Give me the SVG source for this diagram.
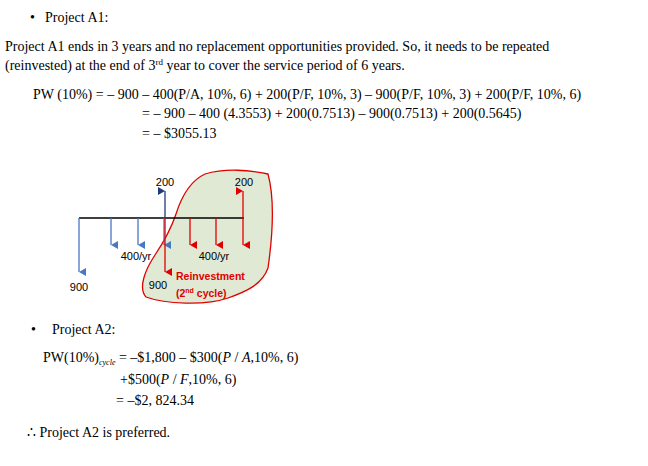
<svg xmlns="http://www.w3.org/2000/svg" width="648" height="466" viewBox="0 0 648 466">
<defs>
<style>
.t{font-family:"Liberation Serif",serif;font-size:14px;fill:#000}
.s{font-family:"Liberation Sans",sans-serif;font-size:11px;fill:#000}
.r{font-family:"Liberation Sans",sans-serif;font-size:10.5px;font-weight:bold;fill:#e00000}
.b{stroke:#4a78c0;stroke-width:1.3;fill:none}
.rd{stroke:#e00000;stroke-width:1.3;fill:none}
.nv{stroke:#1f3a7a;stroke-width:1.3;fill:none}
</style>
<marker id="ab" markerWidth="8" markerHeight="8" refX="4" refY="7" orient="auto" markerUnits="userSpaceOnUse" viewBox="0 0 8 8"><path d="M0,0 L8,0 L4,7 z" fill="#4a78c0"/></marker>
<marker id="ar" markerWidth="8" markerHeight="8" refX="4" refY="7" orient="auto" markerUnits="userSpaceOnUse" viewBox="0 0 8 8"><path d="M0,0 L8,0 L4,7 z" fill="#e00000"/></marker>
<marker id="an" markerWidth="8" markerHeight="8" refX="4" refY="7" orient="auto" markerUnits="userSpaceOnUse" viewBox="0 0 8 8"><path d="M0,0 L8,0 L4,7 z" fill="#1f3a7a"/></marker>
</defs>
<rect width="648" height="466" fill="#fff"/>
<g id="text-a1">
<text class="t" x="30" y="22">•</text><text class="t" x="45" y="22">Project A1:</text>
<text class="t" x="5" y="51">Project A1 ends in 3 years and no replacement opportunities provided. So, it needs to be repeated</text>
<text class="t" x="5" y="70">(reinvested) at the end of 3<tspan font-size="9" dy="-5">rd</tspan><tspan dy="5"> year to cover the service period of 6 years.</tspan></text>
<text class="t" x="33" y="99">PW (10%) = – 900 – 400(P/A, 10%, 6) + 200(P/F, 10%, 3) – 900(P/F, 10%, 3) + 200(P/F, 10%, 6)</text>
<text class="t" x="142" y="118">= – 900 – 400 (4.3553) + 200(0.7513) – 900(0.7513) + 200(0.5645)</text>
<text class="t" x="142" y="138">= – $3055.13</text>
</g>
<g id="blob">
<path d="M176,214 C182,195 192,180 205,174 C225,168 250,170 268,174 C275,200 272,240 268,268 C262,285 245,292 228,298 C205,306 165,304 146,297 C138,288 145,270 155,255 C163,243 170,232 176,214 Z" fill="#dfe9d3" stroke="#e00000" stroke-width="1.3"/>
</g>
<g id="connectors">
<line x1="79" y1="218" x2="244" y2="218" stroke="#000" stroke-width="1.3"/>
<line class="b" x1="79" y1="218" x2="79" y2="272" marker-end="url(#ab)"/>
<line class="b" x1="111" y1="218" x2="111" y2="245" marker-end="url(#ab)"/>
<line class="b" x1="138" y1="218" x2="138" y2="245" marker-end="url(#ab)"/>
<line class="b" x1="164" y1="218" x2="164" y2="245" marker-end="url(#ab)"/>
<line class="rd" x1="165" y1="218" x2="165" y2="272" marker-end="url(#ar)"/>
<line class="nv" x1="165" y1="218" x2="165" y2="191" marker-end="url(#an)"/>
<line class="rd" x1="190" y1="218" x2="190" y2="245" marker-end="url(#ar)"/>
<line class="rd" x1="216" y1="218" x2="216" y2="245" marker-end="url(#ar)"/>
<line class="rd" x1="243" y1="218" x2="243" y2="245" marker-end="url(#ar)"/>
<line class="rd" x1="243" y1="218" x2="243" y2="191" marker-end="url(#ar)"/>
</g>
<g id="labels">
<text class="s" x="165" y="186" text-anchor="middle">200</text>
<text class="s" x="244" y="186" text-anchor="middle">200</text>
<text class="s" x="136" y="260" text-anchor="middle">400/yr</text>
<text class="s" x="214" y="260" text-anchor="middle">400/yr</text>
<text class="s" x="79" y="291" text-anchor="middle">900</text>
<text class="s" x="158" y="289" text-anchor="middle">900</text>
<text class="r" x="176" y="280">Reinvestment</text>
<text class="r" x="176" y="297">(2<tspan font-size="7" dy="-4">nd</tspan><tspan dy="4"> cycle)</tspan></text>
</g>
<g id="text-a2">
<text class="t" x="31" y="334">•</text><text class="t" x="52" y="334">Project A2:</text>
<text class="t" x="43" y="362">PW(10%)<tspan font-size="8" font-style="italic" dy="3">cycle</tspan><tspan dy="-3"> = –$1,800 – $300(<tspan font-style="italic">P</tspan> / <tspan font-style="italic">A</tspan>,10%, 6)</tspan></text>
<text class="t" x="120" y="384">+$500(<tspan font-style="italic">P</tspan> / <tspan font-style="italic">F</tspan>,10%, 6)</text>
<text class="t" x="116" y="405">= –$2, 824.34</text>
<text class="t" x="27" y="437">∴ Project A2 is preferred.</text>
</g>
</svg>
